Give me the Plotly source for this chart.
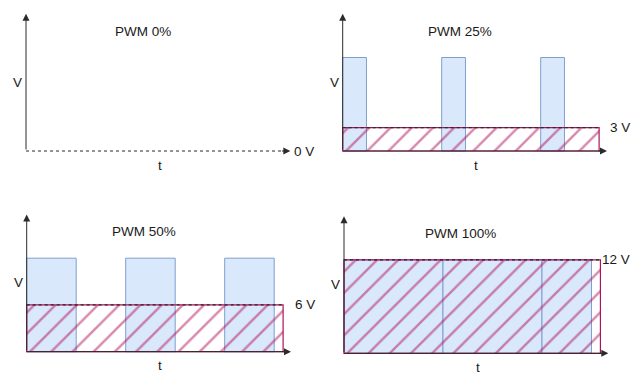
import plotly.graph_objects as go

# ---------------- data ----------------
PANEL_TITLES = ["PWM 0%", "PWM 25%", "PWM 50%", "PWM 100%"]
PULSE_WIDTH = [0.0, 0.24, 0.5, 1.0]        # pulse width in periods
AVG_VOLTAGE = [0, 3, 6, 12]                # average level (V)
LEVEL_LABELS = ["0 V", "3 V", "6 V", "12 V"]
PEAK_VOLTAGE = 12
PULSE_STARTS = [0, 1, 2]                   # start of each period
SIGNAL_END = 2.5                           # end of the drawn PWM signal (periods)
AVG_END = 2.59                             # end of the hatched average area (periods)
T_AXIS_END = 2.67                          # x-axis arrow tip (periods)
V_AXIS_END = 17.6                          # y-axis arrow tip (V)

# ---------------- style / layout ----------------
PAGE_OFFSET = 8      # default body margin of the html page
W, H = 640, 379
ORIGINS = [(26, 151), (342.7, 151), (26.7, 351.7), (344, 353.3)]  # pixel origin of each panel (page coords)
LABEL_SHIFT = [0, -1, 0, -10]
PX_T = 99.0          # pixels per period
PX_V = 93.5 / 12     # pixels per volt
X_RANGE = (-0.05, 2.75)
Y_RANGE = (-0.5, 18.0)

AXIS_COL = "#2b2b2b"
TEXT_COL = "#1a1a1a"
BLUE_FILL = "#dae8fc"
BLUE_LINE = "#7f9fcf"
CRIMSON = "#b0105a"
FONT = dict(family="Liberation Sans, Arial, sans-serif", size=13.5, color=TEXT_COL)

fig = go.Figure()
layout = dict(
    width=W, height=H, margin=dict(l=0, r=0, t=0, b=0, pad=0),
    paper_bgcolor="white", plot_bgcolor="rgba(0,0,0,0)",
    showlegend=False, barmode="overlay", font=FONT,
)
annotations = []

for i in range(4):
    sx = "" if i == 0 else str(i + 1)
    xa, ya = "x" + sx, "y" + sx
    ox, oy = ORIGINS[i][0] - PAGE_OFFSET, ORIGINS[i][1] - PAGE_OFFSET
    x0p = ox + X_RANGE[0] * PX_T
    x1p = ox + X_RANGE[1] * PX_T
    ytop = oy - Y_RANGE[1] * PX_V
    ybot = oy - Y_RANGE[0] * PX_V
    layout["xaxis" + sx] = dict(domain=[x0p / W, x1p / W], range=list(X_RANGE),
                                visible=False, anchor=ya, fixedrange=True)
    layout["yaxis" + sx] = dict(domain=[(H - ybot) / H, (H - ytop) / H], range=list(Y_RANGE),
                                visible=False, anchor=xa, fixedrange=True)

    level = AVG_VOLTAGE[i]

    # x-axis line
    fig.add_trace(go.Scatter(x=[0, T_AXIS_END - 0.03], y=[0, 0], mode="lines",
                             line=dict(color=AXIS_COL, width=1.2 if level == 0 else 1,
                                       dash="dot" if level == 0 else "solid"),
                             xaxis=xa, yaxis=ya, hoverinfo="skip"))

    # PWM pulses
    w = PULSE_WIDTH[i]
    if w > 0:
        xs, ws = [], []
        for s in PULSE_STARTS:
            wi = min(w, SIGNAL_END - s)
            xs.append(s + wi / 2)
            ws.append(wi)
        fig.add_trace(go.Bar(x=xs, y=[PEAK_VOLTAGE] * len(xs), width=ws, base=0,
                             marker=dict(color=BLUE_FILL, line=dict(color=BLUE_LINE, width=1)),
                             xaxis=xa, yaxis=ya, hoverinfo="skip"))

    # hatched average area
    if level > 0:
        fig.add_trace(go.Bar(x=[AVG_END / 2], y=[level], width=[AVG_END], base=0,
                             marker=dict(color="rgba(0,0,0,0)",
                                         line=dict(color=CRIMSON, width=1.2),
                                         pattern=dict(shape="/", fgcolor=CRIMSON,
                                                      bgcolor="rgba(0,0,0,0)", size=15,
                                                      solidity=0.16, fillmode="overlay")),
                             xaxis=xa, yaxis=ya, hoverinfo="skip"))
        fig.add_trace(go.Scatter(x=[0, AVG_END], y=[level, level], mode="lines",
                                 line=dict(color=AXIS_COL, width=1.2, dash="dot"),
                                 xaxis=xa, yaxis=ya, hoverinfo="skip"))

    # axis arrows
    annotations.append(dict(x=0, y=V_AXIS_END, ax=0, ay=0, xref=xa, yref=ya, axref=xa, ayref=ya,
                            text="", showarrow=True, arrowhead=2, arrowsize=1.4, arrowwidth=1,
                            arrowcolor=AXIS_COL, standoff=0, startstandoff=0))
    annotations.append(dict(x=T_AXIS_END, y=0, ax=T_AXIS_END - 0.1, ay=0, xref=xa, yref=ya,
                            axref=xa, ayref=ya, text="", showarrow=True, arrowhead=2,
                            arrowsize=1.4, arrowwidth=1, arrowcolor=AXIS_COL,
                            standoff=0, startstandoff=0))

    # texts
    annotations.append(dict(x=1.18, y=15.4, xref=xa, yref=ya, text=PANEL_TITLES[i],
                            showarrow=False, xanchor="center", yanchor="middle", font=FONT))
    annotations.append(dict(x=0, y=8.85, xref=xa, yref=ya, text="V", showarrow=False,
                            xanchor="right", yanchor="middle", xshift=-2, font=FONT))
    annotations.append(dict(x=1.35, y=0, xref=xa, yref=ya, text="t", showarrow=False,
                            xanchor="center", yanchor="middle", yshift=-14, font=FONT))
    annotations.append(dict(x=2.685, y=level, xref=xa, yref=ya, text=LEVEL_LABELS[i],
                            showarrow=False, xanchor="left", yanchor="middle",
                            xshift=LABEL_SHIFT[i], font=FONT))

layout["annotations"] = annotations
fig.update_layout(**layout)
fig.write_html("out.html")
